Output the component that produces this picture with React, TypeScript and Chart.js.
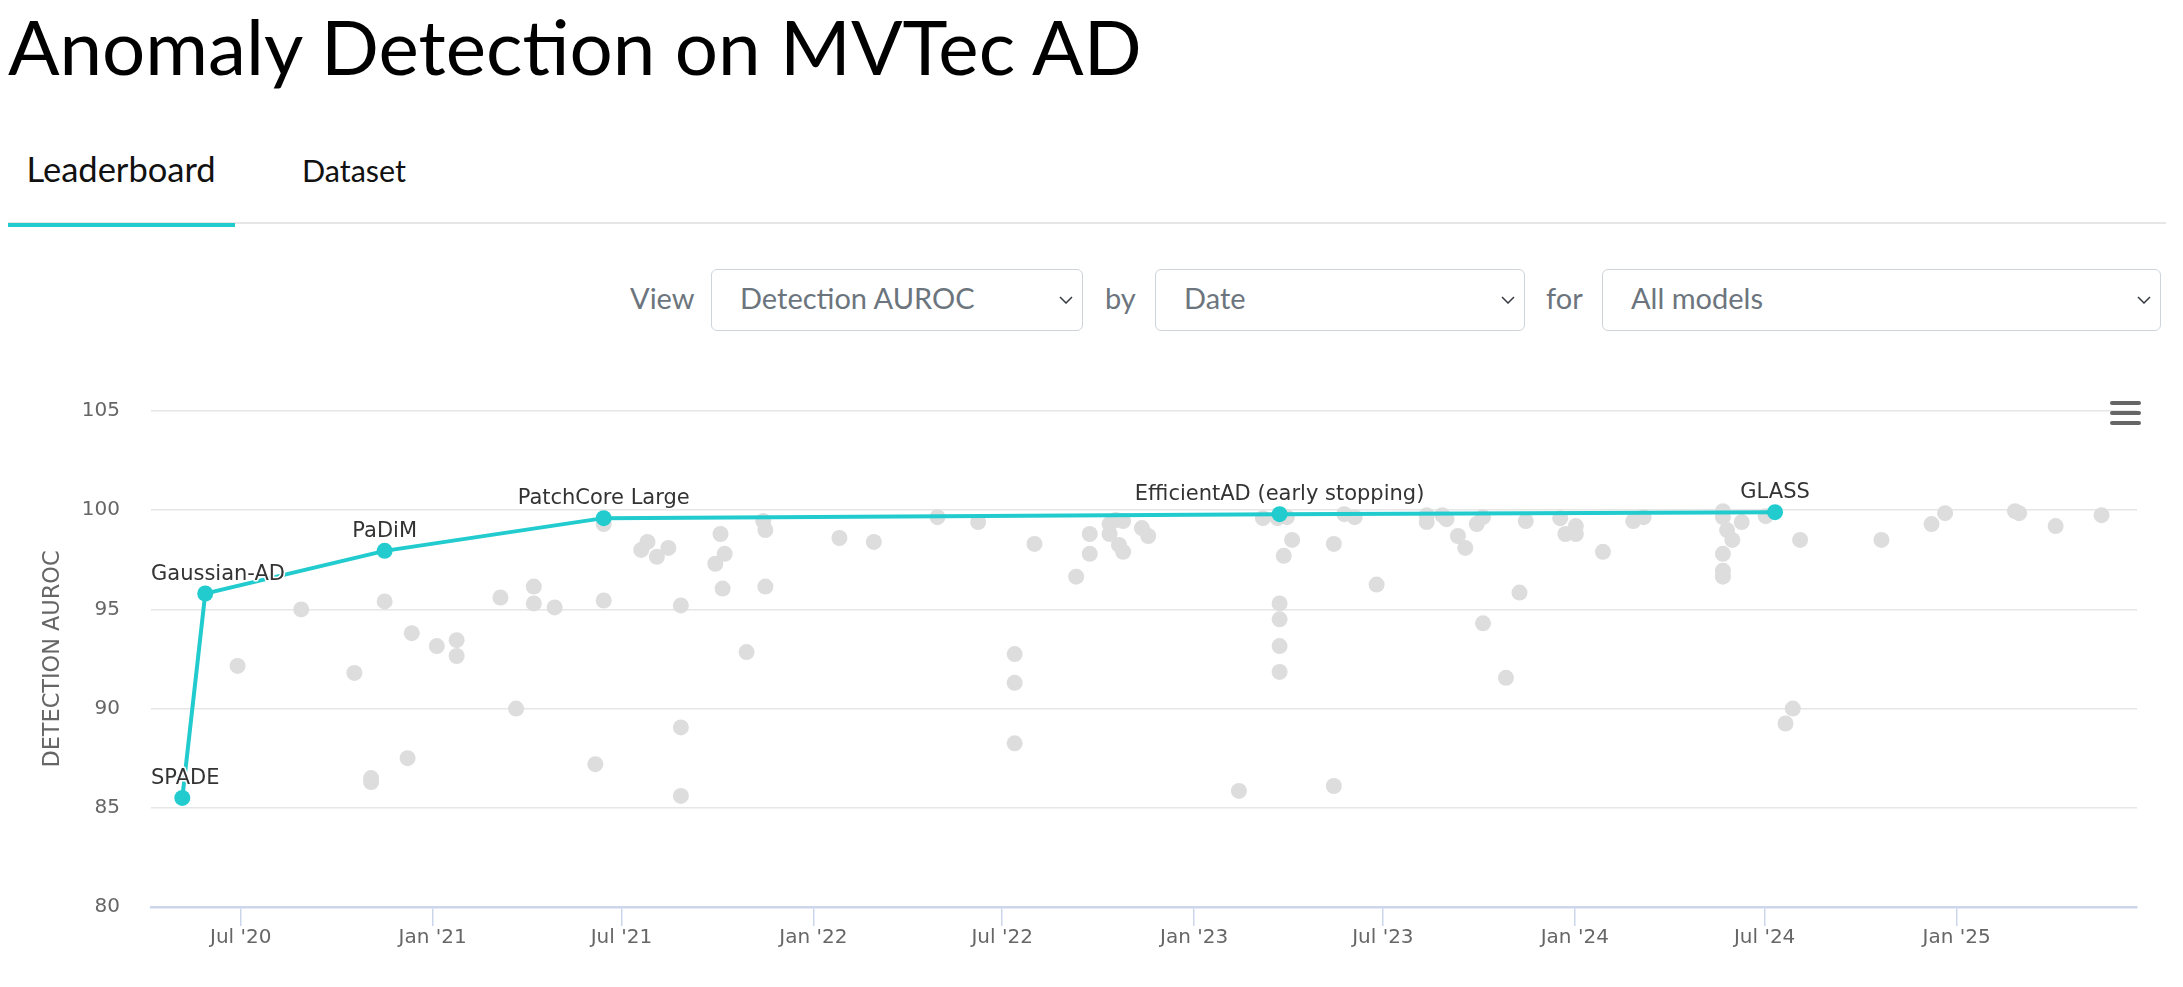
import React, { useEffect, useRef } from 'react';
import { Chart, registerables } from 'chart.js';

Chart.register(...registerables);

// ---------- data ----------
const bestNames = ['SPADE', 'Gaussian-AD', 'PaDiM', 'PatchCore Large', 'EfficientAD (early stopping)', 'GLASS'];
const bestDates = ['2020-05-06', '2020-05-28', '2020-11-16', '2021-06-14', '2023-03-24', '2024-07-11'];
const bestValues = [85.5, 95.8, 97.95, 99.6, 99.8, 99.9];

const otherDates = [
  '2020-06-28', '2020-08-28', '2020-10-18', '2020-11-03', '2020-11-03', '2020-11-16', '2020-12-08', '2020-12-12',
  '2021-01-05', '2021-01-24', '2021-01-24', '2021-03-07', '2021-03-22', '2021-04-08', '2021-04-08', '2021-04-28',
  '2021-06-06', '2021-06-14', '2021-06-14', '2021-07-20', '2021-07-26', '2021-08-04', '2021-08-15', '2021-08-27',
  '2021-08-27', '2021-08-27', '2021-09-29', '2021-10-04', '2021-10-06', '2021-10-08', '2021-10-29', '2021-11-14',
  '2021-11-16', '2021-11-16', '2022-01-26', '2022-02-28', '2022-04-30', '2022-06-08', '2022-07-13', '2022-07-13',
  '2022-07-13', '2022-08-01', '2022-09-10', '2022-09-23', '2022-09-23', '2022-10-12', '2022-10-12', '2022-10-18',
  '2022-10-21', '2022-10-25', '2022-10-25', '2022-11-12', '2022-11-18', '2023-02-13', '2023-03-08', '2023-03-22',
  '2023-03-31', '2023-04-05', '2023-03-28', '2023-03-24', '2023-03-24', '2023-03-24', '2023-03-24', '2023-05-15',
  '2023-05-15', '2023-05-25', '2023-06-04', '2023-06-25', '2023-08-12', '2023-08-12', '2023-08-27', '2023-08-31',
  '2023-09-11', '2023-09-18', '2023-09-29', '2023-10-05', '2023-10-05', '2023-10-27', '2023-11-09', '2023-11-15',
  '2023-12-18', '2023-12-23', '2024-01-02', '2024-01-02', '2024-01-28', '2024-02-26', '2024-03-07', '2024-05-22',
  '2024-05-22', '2024-05-22', '2024-05-22', '2024-05-22', '2024-05-26', '2024-05-31', '2024-06-09', '2024-07-02',
  '2024-08-04', '2024-07-28', '2024-07-21', '2024-10-21', '2024-12-08', '2024-12-21', '2025-02-26', '2025-03-02',
  '2025-04-06', '2025-05-20',
];
const otherValues = [
  92.15, 95.0, 91.8, 86.5, 86.3, 95.4, 87.5, 93.8,
  93.15, 93.45, 92.65, 95.6, 90.0, 96.15, 95.3, 95.1,
  87.2, 95.45, 99.3, 98.0, 98.4, 97.65, 98.1, 95.2,
  89.05, 85.6, 97.3, 98.8, 96.05, 97.8, 92.85, 99.45,
  99.0, 96.15, 98.6, 98.4, 99.65, 99.4, 92.75, 91.3,
  88.25, 98.3, 96.65, 98.8, 97.8, 99.3, 98.8, 99.5,
  98.25, 99.45, 97.9, 99.1, 98.7, 85.85, 99.6, 99.6,
  99.65, 98.5, 97.7, 95.3, 94.5, 93.15, 91.85, 98.3,
  86.1, 99.8, 99.65, 96.25, 99.75, 99.4, 99.75, 99.55,
  98.7, 98.1, 99.3, 99.65, 94.3, 91.55, 95.85, 99.45,
  99.6, 98.8, 99.2, 98.8, 97.9, 99.45, 99.65, 99.95,
  99.65, 97.8, 96.95, 96.65, 99.0, 98.5, 99.4, 99.7,
  98.5, 90.0, 89.25, 98.5, 99.3, 99.85, 99.95, 99.85,
  99.2, 99.75,
];

const xRange = ['2020-04-06', '2025-06-23'];
const tickDates = [
  '2020-07-01', '2021-01-01', '2021-07-01', '2022-01-01', '2022-07-01',
  '2023-01-01', '2023-07-01', '2024-01-01', '2024-07-01', '2025-01-01',
];
const tickLabels = ["Jul '20", "Jan '21", "Jul '21", "Jan '22", "Jul '22", "Jan '23", "Jul '23", "Jan '24", "Jul '24", "Jan '25"];
const yTicks = [80, 85, 90, 95, 100, 105];

// ---------- helpers ----------
const TEAL = '#21cbce';
const GRAY = '#dddddd';
const CHART_FONT = '"DejaVu Sans", Verdana, sans-serif';

const toMs = (s: string) => {
  const [y, m, d] = s.split('-').map(Number);
  return Date.UTC(y, m - 1, d);
};

const labelPlugin = {
  id: 'bestLabels',
  afterDatasetsDraw(chart: any) {
    const meta = chart.getDatasetMeta(0);
    const ctx = chart.ctx;
    const area = chart.chartArea;
    ctx.save();
    ctx.font = `21px ${CHART_FONT}`;
    ctx.textAlign = 'left';
    ctx.textBaseline = 'alphabetic';
    meta.data.forEach((pt: any, i: number) => {
      const text = bestNames[i];
      const w = ctx.measureText(text).width;
      let left = pt.x - w / 2;
      if (left < area.left) left = area.left;
      if (left + w > area.right) left = area.right - w;
      const y = pt.y - 14;
      ctx.lineJoin = 'round';
      ctx.lineWidth = 3;
      ctx.strokeStyle = '#ffffff';
      ctx.strokeText(text, left, y);
      ctx.fillStyle = '#333333';
      ctx.fillText(text, left, y);
    });
    ctx.restore();
  },
};

const Chevron = () => (
  <svg width="14" height="8" viewBox="0 0 14 8" style={{ position: 'absolute', right: 9, top: 26 }}>
    <polyline points="1,1 7,7 13,1" fill="none" stroke="#343a40" strokeWidth="1.5" />
  </svg>
);

const selectBox = (left: number, width: number, text: string) => (
  <div
    style={{
      position: 'absolute',
      left,
      top: 261,
      width,
      height: 62,
      boxSizing: 'border-box',
      border: '1px solid #ced4da',
      borderRadius: 6,
      background: '#fff',
    }}
  >
    <span
      style={{
        position: 'absolute',
        left: 28,
        top: 11.4,
        fontFamily: 'Lato, sans-serif',
        fontSize: 29,
        lineHeight: 1.2,
        color: '#6c757d',
        whiteSpace: 'nowrap',
      }}
    >
      {text}
    </span>
    <Chevron />
  </div>
);

const labelStyle = (left: number): React.CSSProperties => ({
  position: 'absolute',
  left,
  top: 273.4,
  fontFamily: 'Lato, sans-serif',
  fontSize: 29,
  lineHeight: 1.2,
  color: '#6c757d',
  whiteSpace: 'nowrap',
});

export default function App() {
  const canvasRef = useRef<HTMLCanvasElement | null>(null);

  useEffect(() => {
    if (!canvasRef.current) return;
    const chart = new Chart(canvasRef.current, {
      type: 'scatter',
      data: {
        datasets: [
          {
            label: 'Best',
            data: bestDates.map((d, i) => ({ x: toMs(d), y: bestValues[i] })),
            showLine: true,
            borderColor: TEAL,
            backgroundColor: TEAL,
            borderWidth: 4,
            pointRadius: 8,
            pointBorderWidth: 0,
            pointBackgroundColor: TEAL,
            tension: 0,
          },
          {
            label: 'Other models',
            data: otherDates.map((d, i) => ({ x: toMs(d), y: otherValues[i] })),
            showLine: false,
            pointRadius: 8,
            pointBorderWidth: 0,
            pointBackgroundColor: GRAY,
            backgroundColor: GRAY,
          },
        ],
      },
      options: {
        responsive: false,
        maintainAspectRatio: false,
        animation: false,
        events: [],
        layout: { padding: { top: 31, right: 38, left: 0, bottom: 0 } },
        plugins: {
          legend: { display: false },
          tooltip: { enabled: false },
        },
        scales: {
          x: {
            type: 'linear',
            min: toMs(xRange[0]),
            max: toMs(xRange[1]),
            afterBuildTicks: (scale: any) => {
              scale.ticks = tickDates.map((d) => ({ value: toMs(d) }));
            },
            afterFit: (scale: any) => {
              scale.height = 73;
            },
            ticks: {
              autoSkip: false,
              maxRotation: 0,
              minRotation: 0,
              padding: 0,
              color: '#666666',
              font: { family: CHART_FONT, size: 20 },
              callback: (v: any) => {
                const i = tickDates.findIndex((d) => toMs(d) === v);
                return i >= 0 ? tickLabels[i] : '';
              },
            },
            grid: {
              display: true,
              drawOnChartArea: false,
              drawTicks: true,
              tickLength: 19,
              color: '#ccd6eb',
              lineWidth: 1.5,
            },
            border: { display: true, color: '#ccd6eb', width: 2.5 },
          },
          y: {
            type: 'linear',
            min: 80,
            max: 105,
            afterBuildTicks: (scale: any) => {
              scale.ticks = yTicks.map((v) => ({ value: v }));
            },
            afterFit: (scale: any) => {
              scale.width = 143;
            },
            ticks: {
              padding: 0,
              color: '#666666',
              font: { family: CHART_FONT, size: 20 },
              callback: (v: any) => String(v),
            },
            grid: {
              color: (c: any) => (c.tick && c.tick.value === 80 ? 'rgba(0,0,0,0)' : '#e6e6e6'),
              tickColor: 'rgba(0,0,0,0)',
              lineWidth: 1.5,
              drawTicks: true,
              tickLength: 31,
            },
            border: { display: false },
            title: {
              display: true,
              text: 'DETECTION AUROC',
              color: '#666666',
              font: { family: CHART_FONT, size: 22.4 },
              padding: { top: 32, bottom: 0 },
            },
          },
        },
      },
      plugins: [labelPlugin],
    } as any);
    return () => chart.destroy();
  }, []);

  return (
    <div style={{ position: 'relative', width: 2167, height: 971, background: '#fff' }}>
      <div
        style={{
          position: 'absolute',
          left: 0,
          top: -8.3,
          fontFamily: 'Lato, sans-serif',
          fontSize: 76.3,
          lineHeight: 1.2,
          color: '#000',
          whiteSpace: 'nowrap',
        }}
      >
        Anomaly Detection on MVTec AD
      </div>

      <div
        style={{
          position: 'absolute',
          left: 18.5,
          top: 139.9,
          fontFamily: 'Lato, sans-serif',
          fontSize: 34.5,
          lineHeight: 1.2,
          color: '#111',
          whiteSpace: 'nowrap',
        }}
      >
        Leaderboard
      </div>
      <div
        style={{
          position: 'absolute',
          left: 294,
          top: 143.9,
          fontFamily: 'Lato, sans-serif',
          fontSize: 30.5,
          lineHeight: 1.2,
          color: '#111',
          whiteSpace: 'nowrap',
        }}
      >
        Dataset
      </div>
      <div style={{ position: 'absolute', left: 0, top: 214, width: 2158, height: 2, background: '#e6e6e6' }} />
      <div style={{ position: 'absolute', left: 0, top: 215, width: 227, height: 4, background: TEAL }} />

      <div style={labelStyle(622)}>View</div>
      {selectBox(703, 372, 'Detection AUROC')}
      <div style={labelStyle(1097)}>by</div>
      {selectBox(1147, 370, 'Date')}
      <div style={labelStyle(1538)}>for</div>
      {selectBox(1594, 559, 'All models')}

      <canvas
        ref={canvasRef}
        width={2167}
        height={600}
        style={{ position: 'absolute', left: 0, top: 372, width: 2167, height: 600, display: 'block' }}
      />

      {[393, 403, 413].map((t) => (
        <div
          key={t}
          style={{ position: 'absolute', left: 2102, top: t, width: 31, height: 4, borderRadius: 2, background: '#666666' }}
        />
      ))}
    </div>
  );
}
